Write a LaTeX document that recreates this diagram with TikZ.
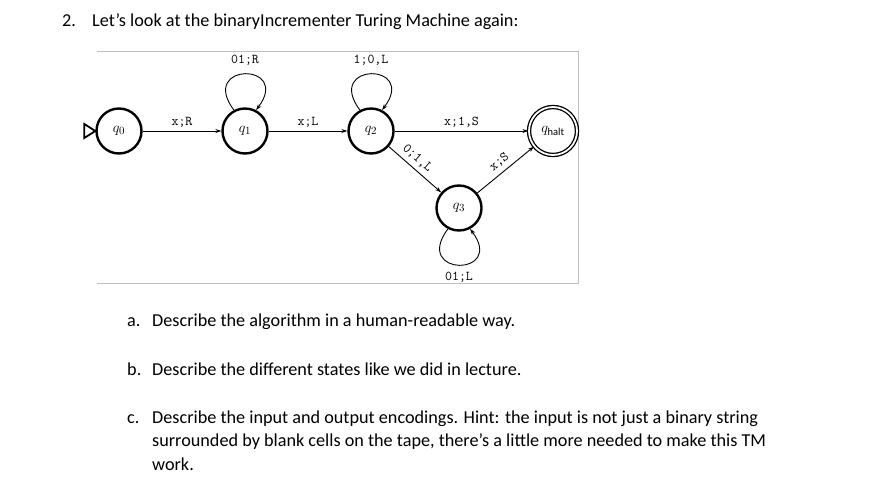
\documentclass[tikz,border=0pt]{standalone}
\usepackage{fontspec}
\setmainfont{Carlito}
\newfontfamily\lmr{Latin Modern Roman}
\usetikzlibrary{arrows.meta}
\begin{document}
\begin{tikzpicture}[x=1pt,y=-1pt,
  st/.style={circle,draw,line width=2.4pt,minimum size=45pt,inner sep=0pt,font=\lmr\fontsize{15}{17}\selectfont},
  acc/.style={st,double,double distance=1.8pt,line width=1.3pt,minimum size=48pt},
  tr/.style={-{Stealth[length=6pt,width=4pt]},line width=0.9pt},
  lb/.style={font=\ttfamily\fontsize{13.5}{14}\selectfont},
  txt/.style={anchor=base west,font=\fontsize{18.2}{20}\selectfont,inner sep=0pt}]
\useasboundingbox (0,0) rectangle (874,489);
\fill[white] (0,0) rectangle (874,489);
\draw[gray!50,line width=1pt] (97,52) -- (578,52) -- (578,283) -- (97,283);
\node[st] (q0) at (119,131) {$q_0$};
\node[st] (q1) at (245,131) {$q_1$};
\node[st] (q2) at (371,131) {$q_2$};
\node[acc] (qh) at (553,131) {$q_{\mathrm{halt}}$};
\node[st] (q3) at (459,208) {$q_3$};
\draw[line width=1.8pt] (q0.west) -- ++(-11,-7) -- ++(0,14) -- cycle;
\draw[tr] (q0) -- node[lb,above=0pt]{x;R} (q1);
\draw[tr] (q1) -- node[lb,above=0pt]{x;L} (q2);
\draw[tr] (q2) -- node[lb,above=0pt]{x;1,S} (qh);
\draw[tr] (q2) -- node[lb,pos=0.42,sloped,above=1pt]{0;1,L} (q3);
\draw[tr] (q3) -- node[lb,pos=0.5,sloped,above=1pt]{x;S} (qh);
\draw[tr] (q1.118) .. controls (198,62) and (292,62) .. (q1.62);
\node[lb] (l1) at (245,60) {01;R};
\draw[tr] (q2.118) .. controls (324,62) and (418,62) .. (q2.62);
\node[lb] (l2) at (371,60) {1;0,L};
\draw[tr] (q3.242) .. controls (412,277) and (506,277) .. (q3.298);
\node[lb] (l3) at (459,277) {01;L};
\node[txt] (h1) at (62,27) {2.};
\node[txt] (h2) at (92,27) {Let’s look at the binaryIncrementer Turing Machine again:};
\node[txt] (a1) at (127,326) {a.};
\node[txt] (a2) at (152,326) {Describe the algorithm in a human-readable way.};
\node[txt] (b1) at (127,375) {b.};
\node[txt] (b2) at (152,375) {Describe the different states like we did in lecture.};
\node[txt] (c1) at (127,423) {c.};
\node[txt] (c2) at (152,423) {Describe the input and output encodings. Hint: the input is not just a binary string};
\node[txt] (c3) at (152,446) {surrounded by blank cells on the tape, there’s a little more needed to make this TM};
\node[txt] (c4) at (152,470) {work.};
\end{tikzpicture}
\end{document}
